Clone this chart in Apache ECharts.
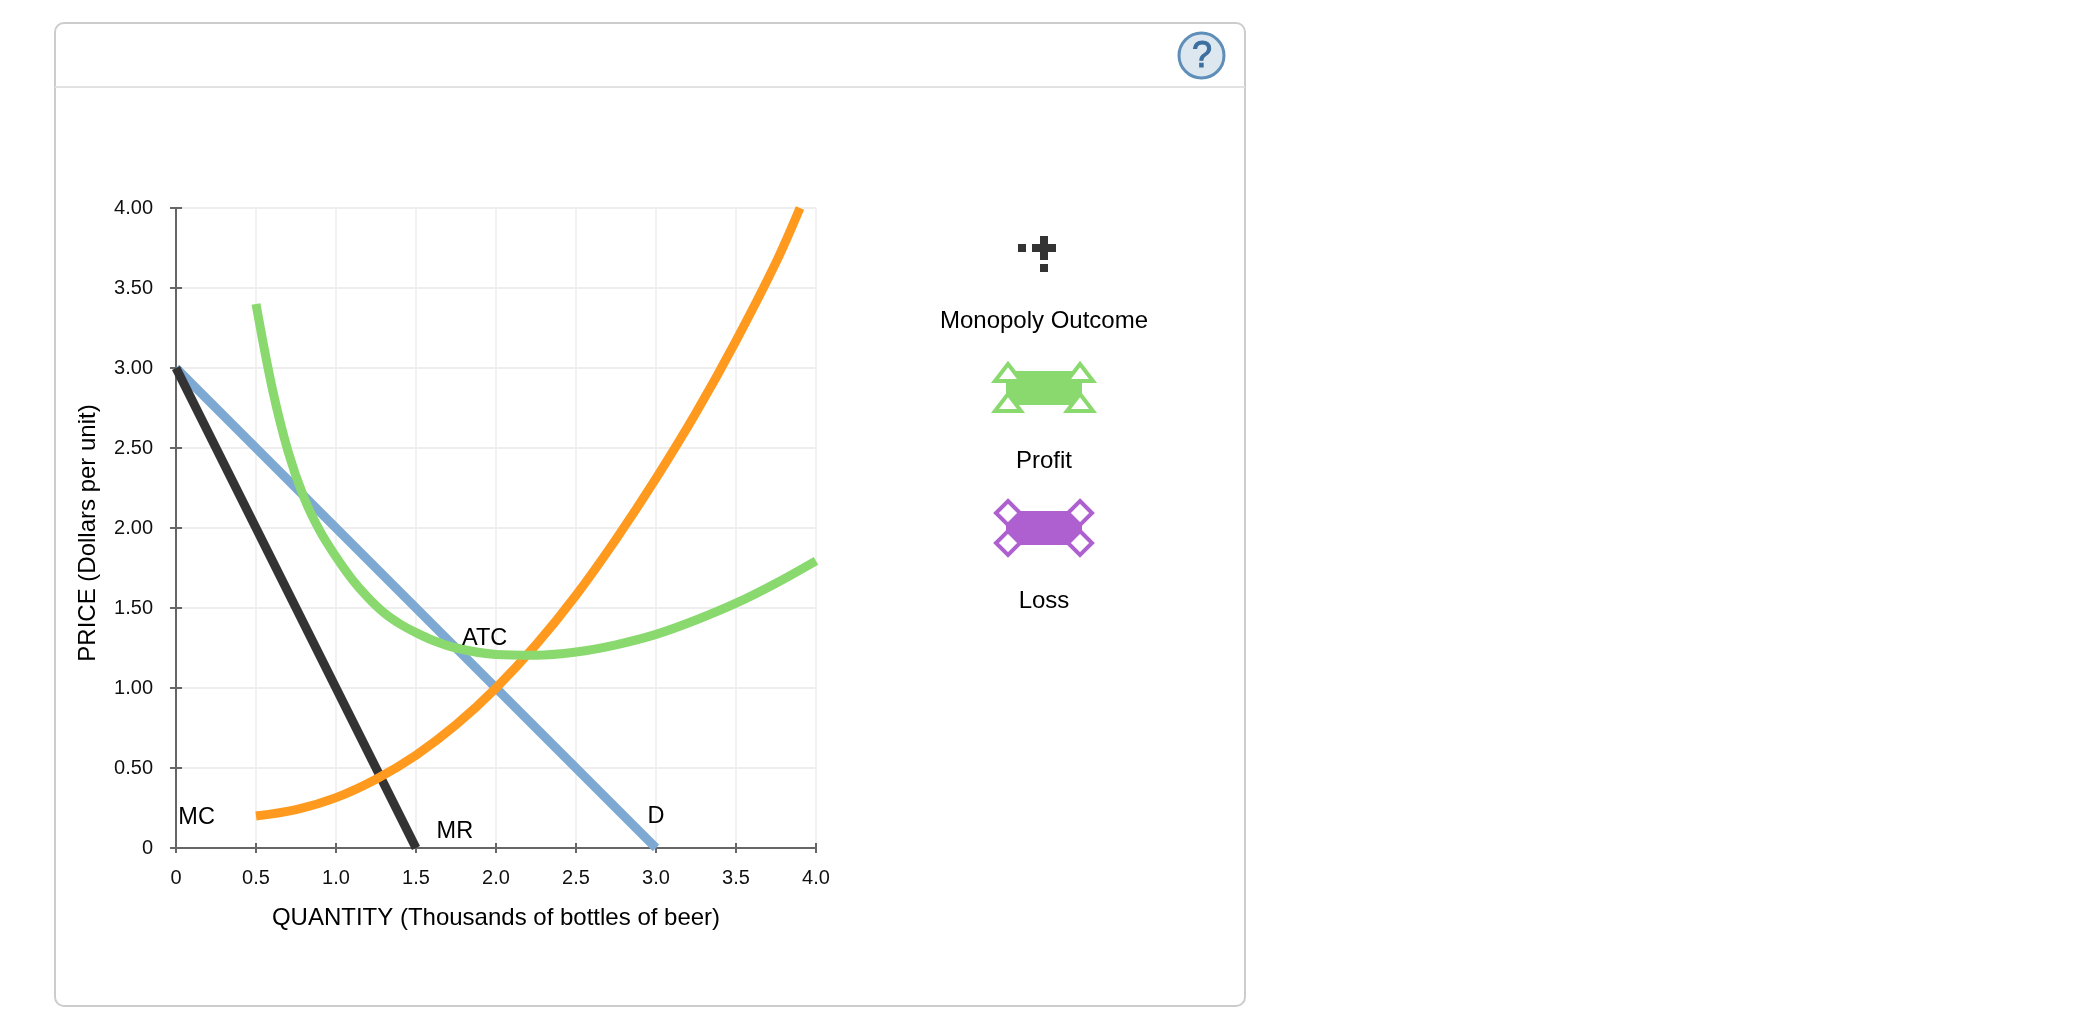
<!DOCTYPE html>
<html lang="en">
<head>
    <meta charset="UTF-8">
    <title>Monopoly Outcome</title>
    <script src="https://cdn.jsdelivr.net/npm/echarts@6/dist/echarts.min.js"></script>
    <style>
        html, body { margin: 0; padding: 0; background: #fff; }
    </style>
</head>
<body>
<div id="box" style="width: 2096px;height: 1022px;"></div>
<script>
    // tick labels
    var xTicks = ['0', '0.5', '1.0', '1.5', '2.0', '2.5', '3.0', '3.5', '4.0'];
    var yTicks = ['0', '0.50', '1.00', '1.50', '2.00', '2.50', '3.00', '3.50', '4.00'];

    // curves
    var demandQty = [0, 3];
    var demandPrice = [3, 0];
    var mrQty = [0, 1.5];
    var mrPrice = [3, 0];
    var mcQty = [0.5, 0.75, 1.0, 1.25, 1.5, 1.75, 2.0, 2.25, 2.5, 2.75, 3.0, 3.25, 3.5, 3.75, 3.9];
    var mcPrice = [0.2, 0.24, 0.315, 0.43, 0.58, 0.77, 1.0, 1.27, 1.58, 1.93, 2.31, 2.72, 3.17, 3.66, 4.0];
    var atcQty = [0.5, 0.6, 0.7, 0.8, 0.9, 1.0, 1.1, 1.2, 1.3, 1.4, 1.5, 1.6, 1.75, 2.0, 2.25, 2.5, 2.75, 3.0, 3.25, 3.5, 3.75, 4.0];
    var atcPrice = [3.4, 2.88, 2.48, 2.19, 1.98, 1.82, 1.68, 1.565, 1.47, 1.4, 1.346, 1.3, 1.25, 1.21, 1.205, 1.225, 1.27, 1.335, 1.425, 1.53, 1.655, 1.795];

    // curve names and where they sit
    var labelNames = ['MC', 'MR', 'D', 'ATC'];
    var labelQty = [0.129, 1.743, 3.0, 1.929];
    var labelPrice = [0.19, 0.105, 0.195, 1.31];

    var FONT = '"Liberation Sans", Arial, sans-serif';
    var GREEN = '#8ad96f';
    var PURPLE = '#ae60d0';
    var AXIS = '#666';

    function zip(a, b) {
        return a.map(function (v, i) { return [v, b[i]]; });
    }

    function lineSeries(name, qty, price, color, smooth) {
        return {
            name: name,
            type: 'line',
            data: zip(qty, price),
            showSymbol: false,
            smooth: smooth,
            silent: true,
            lineStyle: { color: color, width: 9, cap: 'butt' }
        };
    }

    // little handles on the palette shapes
    function triangle(cx, top) {
        return {
            type: 'polygon',
            shape: { points: [[cx, top + 3], [cx + 13, top + 20], [cx - 13, top + 20]] },
            style: { fill: '#fff', stroke: GREEN, lineWidth: 4 }
        };
    }
    function diamond(cx, cy) {
        return {
            type: 'polygon',
            shape: { points: [[cx, cy - 12], [cx + 12, cy], [cx, cy + 12], [cx - 12, cy]] },
            style: { fill: '#fff', stroke: PURPLE, lineWidth: 4 }
        };
    }
    function block(x, y, w, h) {
        return { type: 'rect', shape: { x: x, y: y, width: w, height: h }, style: { fill: '#333' } };
    }
    function caption(text, y) {
        return {
            type: 'text', x: 1044, y: y,
            style: { text: text, font: '24px ' + FONT, fill: '#000', align: 'center', verticalAlign: 'middle' }
        };
    }

    var graphics = [
        // card
        { type: 'rect', z: -1, shape: { x: 55, y: 23, width: 1190, height: 983, r: 9 }, style: { fill: '#fff', stroke: '#ccc', lineWidth: 2 } },
        { type: 'line', z: -1, shape: { x1: 55, y1: 87, x2: 1245, y2: 87 }, style: { stroke: '#e2e2e2', lineWidth: 2 } },
        // help button
        { type: 'circle', shape: { cx: 1201.5, cy: 55.5, r: 22.5 }, style: { fill: '#dde7f0', stroke: '#5f8fb8', lineWidth: 3 } },
        { type: 'text', x: 1202, y: 57, style: { text: '?', font: '36px ' + FONT, fill: '#3c6f9f', stroke: '#3c6f9f', lineWidth: 1, align: 'center', verticalAlign: 'middle' } },
        // monopoly outcome tool
        block(1032, 244, 24, 8),
        block(1040, 236, 8, 24),
        block(1018, 244, 8, 8),
        block(1040, 264, 8, 8),
        caption('Monopoly Outcome', 321),
        // profit tool
        { type: 'rect', shape: { x: 1006, y: 371, width: 76, height: 34 }, style: { fill: GREEN } },
        triangle(1008, 361), triangle(1080, 361), triangle(1008, 391), triangle(1080, 391),
        caption('Profit', 461),
        // loss tool
        { type: 'rect', shape: { x: 1006, y: 511, width: 76, height: 34 }, style: { fill: PURPLE } },
        diamond(1008, 513), diamond(1080, 513), diamond(1008, 543), diamond(1080, 543),
        caption('Loss', 601)
    ];

    var xBase = { type: 'value', min: 0, max: 4, interval: 0.5 };
    var yBase = { type: 'value', min: 0, max: 4, interval: 0.5 };

    var option = {
        animation: false,
        backgroundColor: '#fff',
        textStyle: { fontFamily: FONT },
        graphic: graphics,
        grid: { left: 176, top: 208, width: 640, height: 640 },
        xAxis: [
            Object.assign({}, xBase, {
                name: 'QUANTITY (Thousands of bottles of beer)',
                nameLocation: 'middle',
                nameGap: 58,
                nameTextStyle: { fontSize: 24, color: '#000', fontFamily: FONT },
                axisLine: { show: true, lineStyle: { color: AXIS, width: 2 } },
                axisTick: { show: true, length: 5, lineStyle: { color: AXIS, width: 2 } },
                axisLabel: {
                    margin: 20, fontSize: 20, color: '#111', fontFamily: FONT, hideOverlap: false,
                    showMinLabel: true, showMaxLabel: true,
                    formatter: function (v) { return xTicks[Math.round(v / 0.5)]; }
                },
                splitLine: { show: true, lineStyle: { color: '#eee', width: 1.5 } }
            }),
            // second axis only carries the inner half of the ticks
            Object.assign({}, xBase, {
                position: 'bottom',
                axisLine: { show: false },
                axisTick: { show: true, inside: true, length: 5, lineStyle: { color: AXIS, width: 2 } },
                axisLabel: { show: false },
                splitLine: { show: false }
            })
        ],
        yAxis: [
            Object.assign({}, yBase, {
                name: 'PRICE (Dollars per unit)',
                nameLocation: 'middle',
                nameGap: 76,
                nameTextStyle: { fontSize: 24, color: '#000', fontFamily: FONT, padding: [0, 10, 0, 0] },
                axisLine: { show: true, lineStyle: { color: AXIS, width: 2 } },
                axisTick: { show: true, length: 6, lineStyle: { color: AXIS, width: 2 } },
                axisLabel: {
                    margin: 23, fontSize: 20, color: '#111', fontFamily: FONT,
                    padding: [2, 0, 0, 0],
                    showMinLabel: true, showMaxLabel: true,
                    formatter: function (v) { return yTicks[Math.round(v / 0.5)]; }
                },
                splitLine: { show: true, lineStyle: { color: '#eee', width: 2 } }
            }),
            Object.assign({}, yBase, {
                position: 'left',
                axisLine: { show: false },
                axisTick: { show: true, inside: true, length: 6, lineStyle: { color: AXIS, width: 2 } },
                axisLabel: { show: false },
                splitLine: { show: false }
            })
        ],
        series: [
            lineSeries('D', demandQty, demandPrice, '#7ea9d3', false),
            lineSeries('MR', mrQty, mrPrice, '#333333', false),
            lineSeries('MC', mcQty, mcPrice, '#ff9a1f', 0.33),
            lineSeries('ATC', atcQty, atcPrice, GREEN, 0.33),
            {
                type: 'scatter',
                silent: true,
                symbolSize: 1,
                itemStyle: { color: 'transparent', opacity: 1 },
                data: zip(labelQty, labelPrice),
                z: 5,
                label: {
                    show: true,
                    position: 'inside',
                    fontSize: 23.5,
                    fontFamily: FONT,
                    color: '#000',
                    opacity: 1,
                    textBorderWidth: 0,
                    formatter: function (p) { return labelNames[p.dataIndex]; }
                }
            }
        ]
    };

    var myChart = echarts.init(document.getElementById('box'));
    myChart.setOption(option);
</script>
</body>
</html>
